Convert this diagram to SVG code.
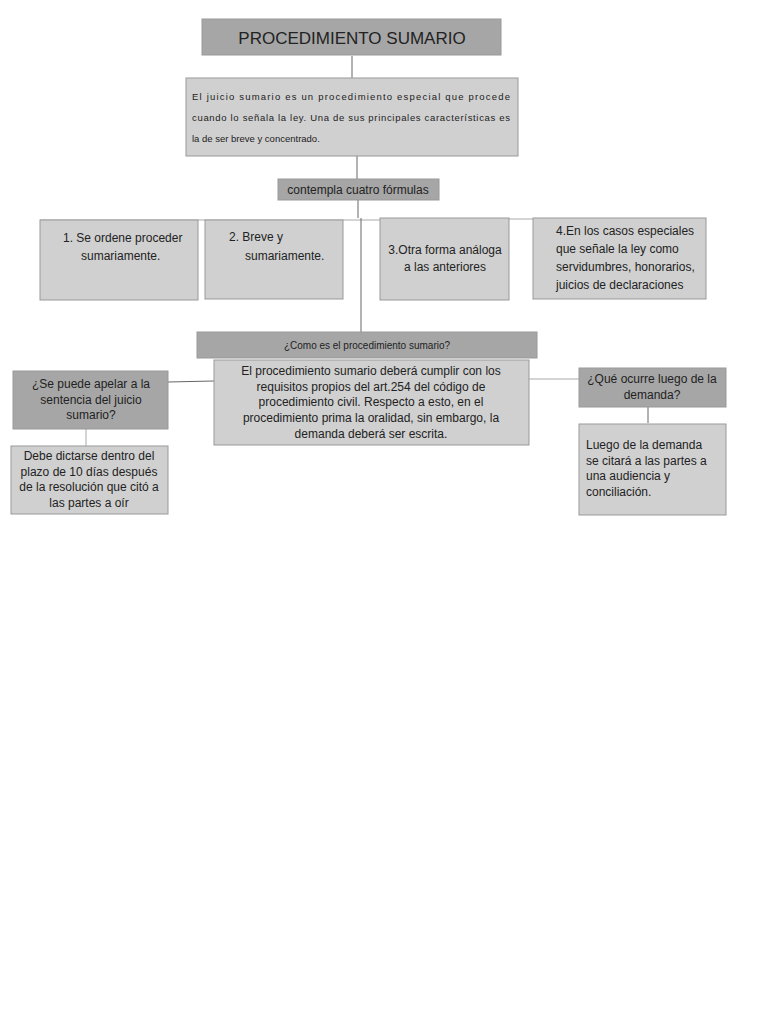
<svg xmlns="http://www.w3.org/2000/svg" width="768" height="1024" viewBox="0 0 768 1024">
<style>
.l{fill:#d0d0d0;stroke:#999;stroke-width:1}
.d{fill:#a6a6a6;stroke:#999;stroke-width:1}
text{font-family:"Liberation Sans",Arial,sans-serif;fill:#222}
.c{stroke:#666;stroke-width:1;fill:none}
.w{stroke:#aaa;stroke-width:1;fill:none}
</style>
<rect width="768" height="1024" fill="#fff"/>
<g id="connectors">
<line class="c" x1="352" y1="56" x2="352" y2="78"/>
<line class="c" x1="357" y1="156" x2="357" y2="179"/>
<line class="c" x1="358" y1="200" x2="358" y2="218"/>
<line class="w" x1="40" y1="220" x2="380" y2="220"/>
<line class="w" x1="380" y1="219" x2="540" y2="219"/>
<line class="c" x1="361" y1="218" x2="361" y2="332"/>
<line class="c" x1="168" y1="382" x2="214" y2="381"/>
<line class="w" x1="529" y1="379" x2="579" y2="379"/>
<line class="w" x1="86" y1="429" x2="86" y2="446"/>
<line class="c" x1="648" y1="407" x2="648" y2="423"/>
</g>
<g id="title"><rect class="d" x="202" y="19" width="299" height="36"/><text x="352" y="44" text-anchor="middle" font-size="17">PROCEDIMIENTO SUMARIO</text></g>
<g id="intro"><rect class="l" x="186" y="78" width="332" height="78"/>
<text font-size="9.5"><tspan x="192" y="100" textLength="318" lengthAdjust="spacing">El juicio sumario es un procedimiento especial que procede</tspan><tspan x="192" y="121" textLength="318" lengthAdjust="spacing">cuando lo señala la ley. Una de sus principales características es</tspan><tspan x="192" y="142">la de ser breve y concentrado.</tspan></text></g>
<g id="contempla"><rect class="d" x="278" y="179" width="161" height="21"/><text x="358" y="194" text-anchor="middle" font-size="12">contempla cuatro fórmulas</text></g>
<g id="f1"><rect class="l" x="40" y="220" width="158" height="80"/><text font-size="12"><tspan x="63" y="242">1.  Se ordene proceder</tspan><tspan x="81" y="260">sumariamente.</tspan></text></g>
<g id="f2"><rect class="l" x="205" y="220" width="138" height="79"/><text font-size="12"><tspan x="229" y="241">2.  Breve y</tspan><tspan x="245" y="260">sumariamente.</tspan></text></g>
<g id="f3"><rect class="l" x="380" y="218" width="129" height="82"/><text font-size="12" text-anchor="middle"><tspan x="445" y="254">3.Otra forma análoga</tspan><tspan x="445" y="271">a las anteriores</tspan></text></g>
<g id="f4"><rect class="l" x="533" y="218" width="173" height="81"/><text font-size="12"><tspan x="556" y="235">4.En los casos especiales</tspan><tspan x="556" y="253">que señale la ley como</tspan><tspan x="556" y="271">servidumbres, honorarios,</tspan><tspan x="556" y="289">juicios de declaraciones</tspan></text></g>
<g id="como"><rect class="d" x="197" y="332" width="340" height="26"/><text x="367" y="349" text-anchor="middle" font-size="10">¿Como es el procedimiento sumario?</text></g>
<g id="desc"><rect class="l" x="214" y="360" width="315" height="85"/><text font-size="12" text-anchor="middle"><tspan x="371" y="375">El procedimiento sumario deberá cumplir con los</tspan><tspan x="371" y="391">requisitos propios del art.254 del código de</tspan><tspan x="371" y="406">procedimiento civil. Respecto a esto, en el</tspan><tspan x="371" y="422">procedimiento prima la oralidad, sin embargo, la</tspan><tspan x="371" y="438">demanda deberá ser escrita.</tspan></text></g>
<g id="apelar"><rect class="d" x="13" y="371" width="155" height="58"/><text font-size="12" text-anchor="middle"><tspan x="91" y="388">¿Se puede apelar a la</tspan><tspan x="91" y="404">sentencia del juicio</tspan><tspan x="91" y="419">sumario?</tspan></text></g>
<g id="plazo"><rect class="l" x="11" y="446" width="157" height="68"/><text font-size="12" text-anchor="middle"><tspan x="89" y="460">Debe dictarse dentro del</tspan><tspan x="89" y="476">plazo de 10 días después</tspan><tspan x="89" y="491">de la resolución que citó a</tspan><tspan x="89" y="507">las partes a oír</tspan></text></g>
<g id="ocurre"><rect class="d" x="579" y="368" width="147" height="39"/><text font-size="12" text-anchor="middle"><tspan x="652" y="383">¿Qué ocurre luego de la</tspan><tspan x="652" y="399">demanda?</tspan></text></g>
<g id="luego"><rect class="l" x="579" y="424" width="147" height="91"/><text font-size="12"><tspan x="586" y="449">Luego de la demanda</tspan><tspan x="586" y="465">se citará a las partes a</tspan><tspan x="586" y="480">una audiencia y</tspan><tspan x="586" y="496">conciliación.</tspan></text></g>
</svg>
